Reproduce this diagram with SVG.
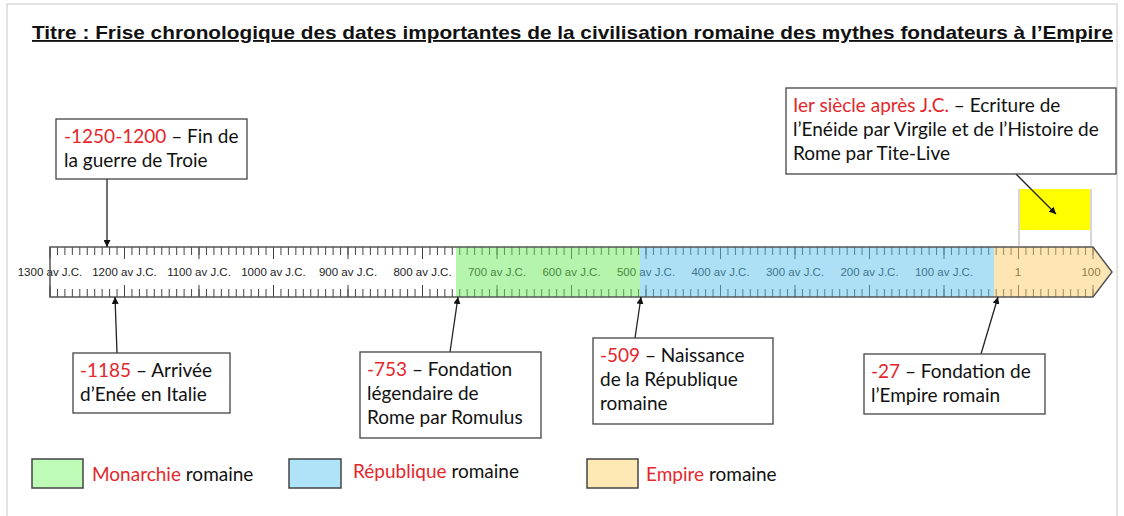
<svg xmlns="http://www.w3.org/2000/svg" width="1124" height="516" viewBox="0 0 1124 516">
<defs>
<style>
.frame{fill:none;stroke:#d9d9d9;stroke-width:1.5}
.title{font-family:"Liberation Sans",Arial,sans-serif;font-weight:bold;font-size:18.5px;fill:#111;text-decoration:underline}
.box{fill:#fff;stroke:#444;stroke-width:1.3}
.bt{font-family:Lato,"Open Sans",sans-serif;font-size:19px;fill:#111}
.red{fill:#e5262b}
.lg{font-family:Lato,"Open Sans",sans-serif;font-size:19px;fill:#111}
.tl{font-family:"Liberation Sans",Arial,sans-serif;font-size:11.5px;fill:#222;text-anchor:middle}
.tick{fill:none;stroke:#444}
.conn{fill:none;stroke:#222;stroke-width:1.3}
.guide{fill:none;stroke:#999;stroke-width:0.8}
.leg{stroke:#444;stroke-width:1.5}
</style>
<marker id="ah" viewBox="0 0 10 10" refX="10" refY="5" markerWidth="7" markerHeight="7" markerUnits="userSpaceOnUse" orient="auto">
<path d="M0,0 L10,5 L0,10 Z" fill="#111"/>
</marker>
</defs>
<rect width="1124" height="516" fill="#fff"/>
<path class="frame" d="M7,520 V4 H1117 V520"/>

<text class="title" x="32" y="39" textLength="1081" lengthAdjust="spacingAndGlyphs">Titre : Frise chronologique des dates importantes de la civilisation romaine des mythes fondateurs à l’Empire</text>

<g id="timeline">
<path d="M50,247 H1093 L1112,272 L1093,297 H50 Z" fill="#fff"/>
<g id="tick-labels">
<text class="tl" x="50" y="276">1300 av J.C.</text>
<text class="tl" x="124.5" y="276">1200 av J.C.</text>
<text class="tl" x="199" y="276">1100 av J.C.</text>
<text class="tl" x="273.5" y="276">1000 av J.C.</text>
<text class="tl" x="348" y="276">900 av J.C.</text>
<text class="tl" x="422.5" y="276">800 av J.C.</text>
<text class="tl" x="497" y="276">700 av J.C.</text>
<text class="tl" x="571.5" y="276">600 av J.C.</text>
<text class="tl" x="646" y="276">500 av J.C.</text>
<text class="tl" x="720.5" y="276">400 av J.C.</text>
<text class="tl" x="795" y="276">300 av J.C.</text>
<text class="tl" x="869.5" y="276">200 av J.C.</text>
<text class="tl" x="944" y="276">100 av J.C.</text>
<text class="tl" x="1018" y="276">1</text>
<text class="tl" x="1091" y="276">100</text>
</g>
<g id="ticks">
<line class="tick" x1="49.5" y1="251" x2="1094" y2="251" stroke-width="8" stroke-dasharray="1 6.45"/>
<line class="tick" x1="49.5" y1="253" x2="1094" y2="253" stroke-width="12" stroke-dasharray="1 73.5"/>
<line class="tick" x1="49.5" y1="293" x2="1094" y2="293" stroke-width="8" stroke-dasharray="1 6.45"/>
<line class="tick" x1="49.5" y1="291" x2="1094" y2="291" stroke-width="12" stroke-dasharray="1 73.5"/>
</g>
<g id="periods" opacity="0.5">
<rect x="456" y="247" width="184" height="50" fill="#6beb5d"/>
<rect x="640" y="247" width="354" height="50" fill="#5dc3ed"/>
<path d="M994,247 H1093 L1112,272 L1093,297 H994 Z" fill="#fbcd67"/>
</g>
<path d="M50,247 H1093 L1112,272 L1093,297 H50 Z" fill="none" stroke="#555" stroke-width="1.5"/>
</g>

<g id="yellow-marker">
<line class="guide" x1="1019" y1="189" x2="1019" y2="247"/>
<line class="guide" x1="1091" y1="189" x2="1091" y2="247"/>
<rect x="1020" y="189" width="70" height="41" fill="#ffff00"/>
</g>

<g id="connectors">
<line class="conn" x1="107" y1="179" x2="107" y2="247" marker-end="url(#ah)"/>
<line class="conn" x1="117" y1="353" x2="115" y2="297" marker-end="url(#ah)"/>
<line class="conn" x1="450" y1="352" x2="458" y2="297" marker-end="url(#ah)"/>
<line class="conn" x1="635" y1="338" x2="641" y2="297" marker-end="url(#ah)"/>
<line class="conn" x1="981" y1="354" x2="998" y2="297" marker-end="url(#ah)"/>
<line class="conn" x1="1016" y1="174" x2="1056" y2="214" marker-end="url(#ah)"/>
</g>

<g id="node-troie">
<rect class="box" x="56" y="119" width="191" height="60"/>
<text class="bt" x="64" y="143"><tspan class="red">-1250-1200</tspan> – Fin de</text>
<text class="bt" x="64" y="167">la guerre de Troie</text>
</g>

<g id="node-enee">
<rect class="box" x="73" y="353" width="157" height="60"/>
<text class="bt" x="80" y="377"><tspan class="red">-1185</tspan> – Arrivée</text>
<text class="bt" x="80" y="401">d’Enée en Italie</text>
</g>

<g id="node-rome">
<rect class="box" x="360" y="352" width="181" height="86"/>
<text class="bt" x="367" y="376"><tspan class="red">-753</tspan> – Fondation</text>
<text class="bt" x="367" y="400">légendaire de</text>
<text class="bt" x="367" y="424">Rome par Romulus</text>
</g>

<g id="node-republique">
<rect class="box" x="593" y="338" width="180" height="86"/>
<text class="bt" x="600" y="362"><tspan class="red">-509</tspan> – Naissance</text>
<text class="bt" x="600" y="386">de la République</text>
<text class="bt" x="600" y="410">romaine</text>
</g>

<g id="node-empire">
<rect class="box" x="864" y="354" width="181" height="60"/>
<text class="bt" x="871" y="378"><tspan class="red">-27</tspan> – Fondation de</text>
<text class="bt" x="871" y="402">l’Empire romain</text>
</g>

<g id="node-eneide">
<rect class="box" x="786" y="88" width="330" height="86"/>
<text class="bt" x="793" y="112"><tspan class="red">Ier siècle après J.C.</tspan> – Ecriture de</text>
<text class="bt" x="793" y="136">l’Enéide par Virgile et de l’Histoire de</text>
<text class="bt" x="793" y="160">Rome par Tite-Live</text>
</g>

<g id="legend">
<rect class="leg" x="32" y="459" width="51" height="29" fill="#bdfbb6"/>
<text class="lg" x="92" y="481"><tspan class="red">Monarchie</tspan> romaine</text>
<rect class="leg" x="289" y="459" width="52" height="29" fill="#aee3f8"/>
<text class="lg" x="353" y="478"><tspan class="red">République</tspan> romaine</text>
<rect class="leg" x="587" y="459" width="51" height="29" fill="#fee8b4"/>
<text class="lg" x="646" y="481"><tspan class="red">Empire</tspan> romaine</text>
</g>
</svg>
